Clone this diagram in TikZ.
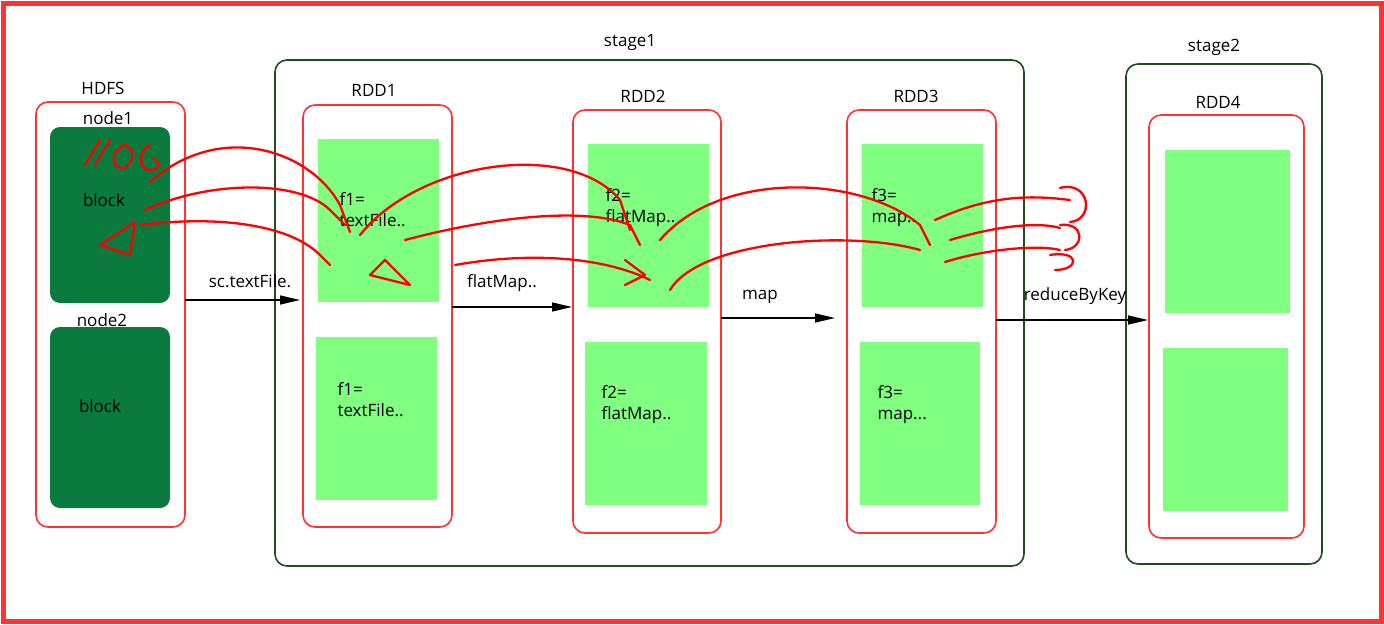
\documentclass[tikz,border=0pt]{standalone}
\usepackage{fontspec}
\setmainfont{Open Sans}
\usetikzlibrary{arrows.meta}
\definecolor{dg}{HTML}{0B7A3E}
\definecolor{lg}{HTML}{80FF80}
\definecolor{rr}{HTML}{FF3333}
\definecolor{sg}{HTML}{1E4D1E}
\begin{document}
\begin{tikzpicture}[x=1pt,y=-1pt,
 every node/.style={font=\fontsize{17}{21}\selectfont},
 rbox/.style={draw=rr,line width=1.6pt,rounded corners=12pt},
 sbox/.style={draw=sg,line width=1.6pt,rounded corners=12pt},
 gbox/.style={fill=lg},
 dbox/.style={fill=dg,rounded corners=10pt},
 lab/.style={anchor=center},
 ftxt/.style={anchor=west,align=left},
 arr/.style={-{Triangle[length=20pt,width=9pt]},line width=1.4pt},
 scrib/.style={draw=red,line width=2.3pt,line cap=round,line join=round}]
\useasboundingbox (0,0) rectangle (1384,624);
\draw[rr,line width=5pt] (3,3) rectangle (1381,621);
% HDFS
\draw[rbox] (36,102) rectangle (185,527);
\node[lab] (hdfs) at (103,88) {HDFS};
\node[lab] (n1) at (108,118) {node1};
\fill[dbox] (50,127) rectangle (170,303);
\node[lab] (b1) at (104,200) {block};
\node[lab] (n2) at (102,320) {node2};
\fill[dbox] (50,327) rectangle (170,508);
\node[lab] (b2) at (100,406) {block};
% stage1
\draw[sbox] (275,60) rectangle (1024,566);
\node[lab] at (630,42) {stage1};
\draw[rbox] (303,105) rectangle (452,527);
\node[lab] at (374,90) {RDD1};
\fill[gbox] (318,139) rectangle (439,302);
\fill[gbox] (316,337) rectangle (437,500);
\node[ftxt] at (336,210) {f1=\\textFile..};
\node[ftxt] at (334,400) {f1=\\textFile..};
\draw[rbox] (573,110) rectangle (721,533);
\node[lab] at (643,96) {RDD2};
\fill[gbox] (588,144) rectangle (709,307);
\fill[gbox] (585,342) rectangle (707,505);
\node[ftxt] at (602,208) {f2=\\flatMap..};
\node[ftxt] at (598,405) {f2=\\flatMap..};
\draw[rbox] (847,110) rectangle (996,533);
\node[lab] at (916,96) {RDD3};
\fill[gbox] (862,144) rectangle (983,307);
\fill[gbox] (860,342) rectangle (980,505);
\node[ftxt] at (868,208) {f3=\\map..};
\node[ftxt] at (874,405) {f3=\\map...};
% stage2
\draw[sbox] (1126,64) rectangle (1322,564);
\node[lab] at (1214,47) {stage2};
\draw[rbox] (1149,115) rectangle (1304,538);
\node[lab] at (1218,102) {RDD4};
\fill[gbox] (1165,150) rectangle (1290,313);
\fill[gbox] (1163,348) rectangle (1288,511);
% arrows
\coordinate (a0) at (185,300); \coordinate (a1) at (300,300);
\coordinate (c0) at (452,307); \coordinate (c1) at (572,307);
\coordinate (d0) at (721,318); \coordinate (d1) at (835,318);
\coordinate (e0) at (996,320); \coordinate (e1) at (1148,320);
\draw[arr] (a0) -- (a1); \node[lab] at (250,281) {sc.textFile.};
\draw[arr] (c0) -- (c1); \node[lab] at (502,283) {flatMap..};
\draw[arr] (d0) -- (d1); \node[lab] at (760,297) {map};
\draw[arr] (e0) -- (e1); \node[lab] at (1075,296) {reduceByKey};
% scribbles
\draw[scrib] (85,165) -- (100,140) (95,165) -- (110,140);
\draw[scrib] (125,145) .. controls (110,150) and (110,170) .. (125,168) .. controls (135,160) and (135,148) .. (125,145);
\draw[scrib] (150,145) .. controls (138,150) and (138,170) .. (150,170) .. controls (160,170) and (162,160) .. (152,158);
\draw[scrib] (100,245) -- (135,222) -- (130,255) -- (100,245);
\draw[scrib] (150,182) .. controls (220,120) and (310,150) .. (340,205) -- (350,232);
\draw[scrib] (145,210) .. controls (210,180) and (300,180) .. (330,210) -- (345,225);
\draw[scrib] (140,225) .. controls (220,215) and (290,225) .. (320,255) -- (330,265);
\draw[scrib] (370,275) -- (385,260) -- (410,285) -- (370,275);
\draw[scrib] (405,240) .. controls (480,220) and (580,205) .. (630,225) -- (640,245);
\draw[scrib] (360,235) .. controls (420,160) and (570,140) .. (620,200) -- (630,230);
\draw[scrib] (455,265) .. controls (540,250) and (610,260) .. (650,280);
\draw[scrib] (625,260) -- (645,275) -- (625,285);
\draw[scrib] (670,290) .. controls (700,240) and (850,230) .. (920,250);
\draw[scrib] (660,240) .. controls (720,170) and (860,175) .. (920,225) -- (930,245);
\draw[scrib] (935,220) .. controls (990,195) and (1030,195) .. (1070,200);
\draw[scrib] (950,240) .. controls (1000,225) and (1040,222) .. (1060,228);
\draw[scrib] (945,262) .. controls (990,248) and (1040,245) .. (1060,250);
\draw[scrib] (1060,188) .. controls (1090,180) and (1095,220) .. (1070,222);
\draw[scrib] (1060,225) .. controls (1085,222) and (1085,248) .. (1065,250);
\draw[scrib] (1050,255) .. controls (1080,250) and (1080,270) .. (1055,270);
\end{tikzpicture}
\end{document}
